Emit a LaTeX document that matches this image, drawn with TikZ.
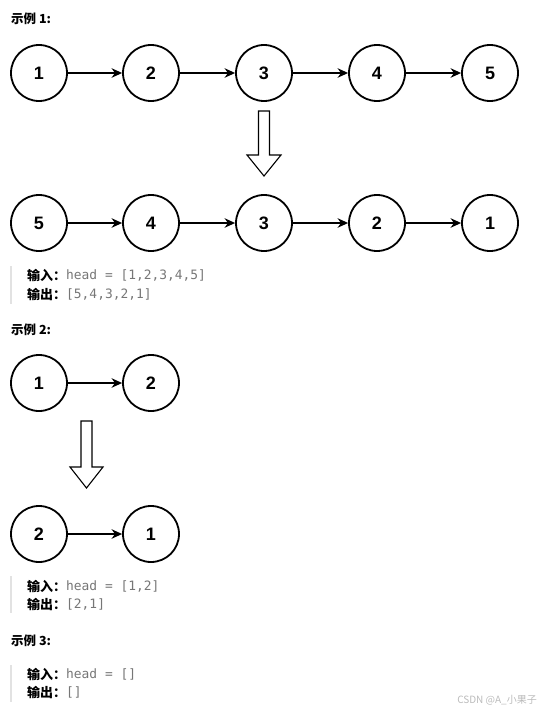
\documentclass[tikz,border=0pt]{standalone}
\usepackage{fontspec}
\setmainfont{Liberation Sans}
\setmonofont{DejaVu Sans Mono}
\newfontfamily\cjk{Noto Sans CJK SC}
\usetikzlibrary{arrows.meta}
\definecolor{codegray}{HTML}{767676}
\definecolor{quotebar}{HTML}{E2E2E2}
\definecolor{markgray}{HTML}{BBBBBB}
\tikzset{
    listnode/.style={circle, draw, line width=1.8pt, minimum size=56pt,
                     inner sep=0pt, font=\fontsize{18}{18}\selectfont\bfseries},
    link/.style={-{Stealth[length=10.5pt,width=9.5pt]}, line width=1.4pt},
    hollow/.style={draw, line width=1.1pt, fill=white, line join=miter},
    title/.style={anchor=west, inner sep=0pt, font=\cjk\fontsize{12.5}{13}\selectfont\bfseries},
    label/.style={anchor=west, inner sep=0pt, font=\cjk\fontsize{13}{13}\selectfont\bfseries},
    code/.style={anchor=west, inner sep=0pt, text=codegray,
                 font=\ttfamily\fontsize{12.9}{13}\selectfont},
    bar/.style={quotebar, line width=2pt},
}

\begin{document}
\begin{tikzpicture}[x=1pt, y=-1pt]
    \useasboundingbox (0,0) rectangle (551,712);

    % example 1
    \node[title] (t1) at (11,19) {示例 1:};
    \node[listnode] (a1) at (39,73) {1};
    \node[listnode] (a2) at (151,73) {2};
    \node[listnode] (a3) at (264,73) {3};
    \node[listnode] (a4) at (377,73) {4};
    \node[listnode] (a5) at (490,73) {5};
    \draw[link] (a1) -- (a2);
    \draw[link] (a2) -- (a3);
    \draw[link] (a3) -- (a4);
    \draw[link] (a4) -- (a5);

    \draw[hollow] (258.5,111) -- (269.5,111) -- (269.5,155) -- (281,155)
        -- (264,176) -- (247,155) -- (258.5,155) -- cycle;

    \node[listnode] (b5) at (39,223) {5};
    \node[listnode] (b4) at (151,223) {4};
    \node[listnode] (b3) at (264,223) {3};
    \node[listnode] (b2) at (377,223) {2};
    \node[listnode] (b1) at (490,223) {1};
    \draw[link] (b5) -- (b4);
    \draw[link] (b4) -- (b3);
    \draw[link] (b3) -- (b2);
    \draw[link] (b2) -- (b1);

    \draw[bar] (11,266) -- (11,304);
    \node[label] (in1) at (27,275) {输入：};
    \node[code] (c1) at (66,275) {head = [1,2,3,4,5]};
    \node[label] (out1) at (27,294) {输出：};
    \node[code] (d1) at (66,294) {[5,4,3,2,1]};

    % example 2
    \node[title] (t2) at (11,330) {示例 2:};
    \node[listnode] (e1) at (39,383) {1};
    \node[listnode] (e2) at (151,383) {2};
    \draw[link] (e1) -- (e2);

    \draw[hollow] (81,421) -- (92,421) -- (92,467) -- (103,467)
        -- (86.5,488) -- (70,467) -- (81,467) -- cycle;

    \node[listnode] (f2) at (39,534) {2};
    \node[listnode] (f1) at (151,534) {1};
    \draw[link] (f2) -- (f1);

    \draw[bar] (11,576) -- (11,613);
    \node[label] (in2) at (27,586) {输入：};
    \node[code] (c2) at (66,586) {head = [1,2]};
    \node[label] (out2) at (27,604) {输出：};
    \node[code] (d2) at (66,604) {[2,1]};

    % example 3
    \node[title] (t3) at (11,641) {示例 3:};
    \draw[bar] (11,665) -- (11,702);
    \node[label] (in3) at (27,674) {输入：};
    \node[code] (c3) at (66,674) {head = []};
    \node[label] (out3) at (27,692) {输出：};
    \node[code] (d3) at (66,692) {[]};

    \node[anchor=east, inner sep=0pt, text=markgray,
          font=\cjk\fontsize{10}{10}\selectfont] (mark) at (537,700) {CSDN @A\_小果子};

\end{tikzpicture}
\end{document}
